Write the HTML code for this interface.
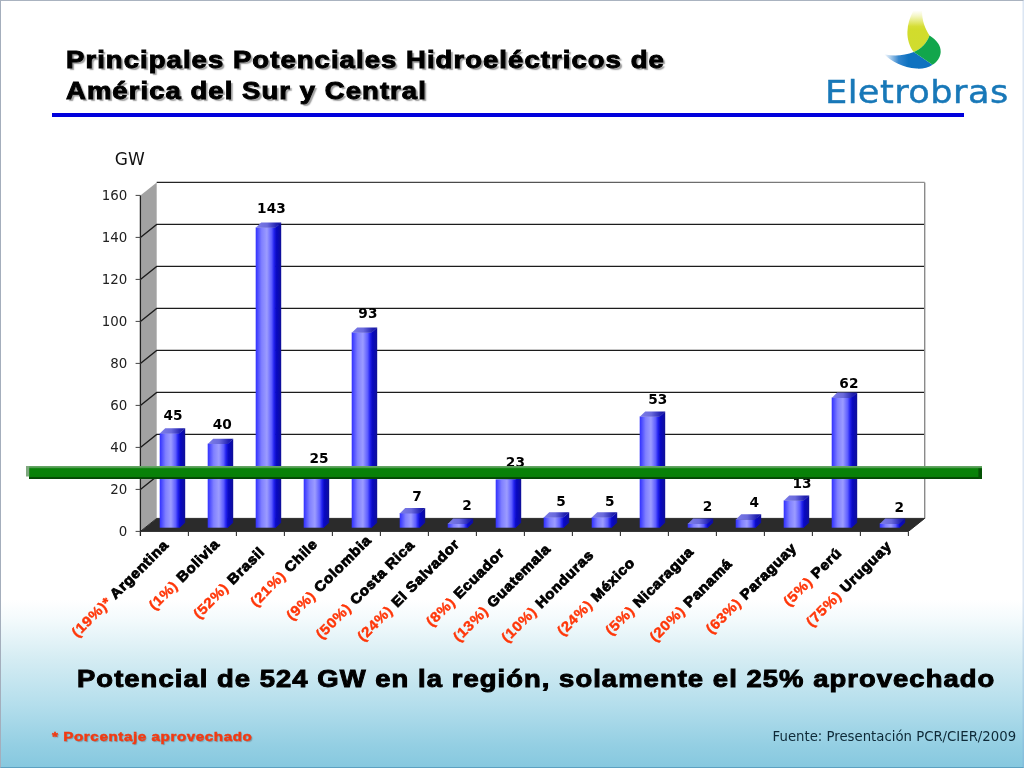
<!DOCTYPE html>
<html lang="es">
<head>
<meta charset="utf-8">
<title>Principales Potenciales Hidroeléctricos de América del Sur y Central</title>
<style>
html,body{margin:0;padding:0;}
body{width:1024px;height:768px;overflow:hidden;position:relative;font-family:"Liberation Sans",sans-serif;
background:linear-gradient(to bottom,#ffffff 0px,#ffffff 600px,#f3fafc 620px,#d4ecf3 660px,#b4deec 705px,#94cfe3 745px,#86c8df 768px);}
.frame{position:absolute;left:0;top:0;width:1024px;height:768px;box-sizing:border-box;border-top:1px solid #aab3c0;border-left:1px solid #a4aebc;border-right:1px solid rgba(120,160,210,.26);border-bottom:1px solid rgba(60,130,170,.55);pointer-events:none;}
.redge{position:absolute;left:1022px;top:1px;width:1px;height:766px;background:rgba(120,160,210,.14);}
.chart{position:absolute;left:0;top:0;}
.blk{font-family:"Liberation Sans",sans-serif;font-weight:bold;color:#000;-webkit-text-stroke:0.95px #000;white-space:nowrap;position:absolute;transform-origin:0 0;}
.title{left:66.3px;top:45.2px;font-size:24px;line-height:30.9px;letter-spacing:0.945px;text-shadow:2px 2px 1.2px #9c9c9c;transform:scaleX(1.143);}
.rule{position:absolute;left:52px;top:113px;width:912px;height:4px;background:#0000dc;}
.gw{position:absolute;left:114.8px;top:148.8px;font-family:"DejaVu Sans",sans-serif;font-size:17px;line-height:20px;color:#111;}
.ytick{font-family:"DejaVu Sans",sans-serif;font-size:13.4px;fill:#222;}
.dl{font-family:"DejaVu Sans",sans-serif;font-weight:bold;font-size:13.7px;fill:#000;}
.cl{letter-spacing:0.58px;font-family:"Liberation Sans",sans-serif;font-weight:bold;font-size:14.0px;fill:#000;stroke:#000;stroke-width:0.85px;}
.cl .pc{fill:#ff3608;stroke:#ff3608;stroke-width:0.4px;}
.big{left:76.9px;top:663.1px;font-size:24px;line-height:31px;letter-spacing:0.912px;transform:scaleX(1.143);}
.note{left:52px;top:728px;font-size:13.3px;line-height:18px;color:#f23a12;-webkit-text-stroke:0.5px #f23a12;text-shadow:1px 1px 1px rgba(90,110,120,.55);letter-spacing:0.54px;transform:scaleX(1.137);}
.src{position:absolute;left:772.6px;top:727.8px;font-family:"DejaVu Sans",sans-serif;font-size:13.27px;line-height:18px;color:#0e2a38;white-space:nowrap;}
.logo{position:absolute;left:0;top:0;}
.brand{position:absolute;left:825.4px;top:72.3px;font-family:"DejaVu Sans",sans-serif;font-size:32.6px;line-height:40px;color:#1878b8;letter-spacing:0.4px;transform:scaleX(1.08);transform-origin:0 0;-webkit-text-stroke:0.45px #1878b8;white-space:nowrap;}
</style>
</head>
<body>
<div class="blk title">Principales Potenciales Hidroeléctricos de<br>América del Sur y Central</div>
<div class="rule"></div>
<svg class="logo" width="1024" height="130" viewBox="0 0 1024 130">
<defs>
<linearGradient id="ly" x1="0" y1="0" x2="0" y2="1"><stop offset="0" stop-color="#d8e030" stop-opacity="0"/><stop offset="0.12" stop-color="#d8e030" stop-opacity="0.25"/><stop offset="0.38" stop-color="#d4dc2c" stop-opacity="0.95"/><stop offset="0.45" stop-color="#d2dc2c"/><stop offset="1" stop-color="#cfdc30"/></linearGradient>
<linearGradient id="lb" x1="0" y1="0" x2="1" y2="0"><stop offset="0" stop-color="#2a80d0" stop-opacity="0"/><stop offset="0.3" stop-color="#1c78c8" stop-opacity="0.9"/><stop offset="0.5" stop-color="#0f72c0"/><stop offset="1" stop-color="#0f72c0"/></linearGradient>
</defs>
<path d="M884.2 54.2 C894 56.5 905 55.5 913.8 52 L932.5 64.8 C928.5 67.8 922 69 916.5 68.6 C903 67.5 891.5 61.5 884.2 54.2 Z" fill="url(#lb)"/>
<path d="M913.2 11 L922 10.5 C922 21 925 28.5 929.5 35.5 C927 43 921 49 913.8 52 C909.5 47 907.2 39 907.4 32 C907.6 24 910 17 913.2 11 Z" fill="url(#ly)"/>
<path d="M929.5 35.5 C936.5 40 941 45.5 940.7 52 C940.4 57.5 937 62 932.5 64.8 L913.8 52 C921 49 927 43 929.5 35.5 Z" fill="#12a64c"/>
</svg>
<div class="brand">Eletrobras</div>
<div class="gw">GW</div>
<svg class="chart" width="1024" height="768" viewBox="0 0 1024 768">
<defs>
<linearGradient id="gf" x1="0" y1="0" x2="1" y2="0"><stop offset="0" stop-color="#3030ff"/><stop offset="0.3" stop-color="#8080ff"/><stop offset="0.56" stop-color="#9c9cff"/><stop offset="0.8" stop-color="#5c5cff"/><stop offset="0.92" stop-color="#2020ee"/><stop offset="1" stop-color="#1010d4"/></linearGradient>
<linearGradient id="gs" x1="0" y1="0" x2="1" y2="0"><stop offset="0" stop-color="#0e0ed0"/><stop offset="0.3" stop-color="#0808c0"/><stop offset="1" stop-color="#101096"/></linearGradient>
<linearGradient id="gt" x1="0" y1="0" x2="1" y2="0"><stop offset="0" stop-color="#7c7ce8"/><stop offset="0.45" stop-color="#6a6adc"/><stop offset="0.8" stop-color="#2424b4"/><stop offset="1" stop-color="#12129c"/></linearGradient>
<linearGradient id="gtop" gradientUnits="userSpaceOnUse" x1="156" y1="0" x2="925" y2="0"><stop offset="0" stop-color="#222"/><stop offset="0.5" stop-color="#555"/><stop offset="1" stop-color="#909090"/></linearGradient>
<linearGradient id="ggreen" x1="0" y1="0" x2="0" y2="1"><stop offset="0" stop-color="#6aa86a"/><stop offset="0.16" stop-color="#4a984a"/><stop offset="0.2" stop-color="#088208"/><stop offset="0.82" stop-color="#088008"/><stop offset="0.88" stop-color="#045004"/><stop offset="1" stop-color="#034403"/></linearGradient>
</defs>
<rect x="156.7" y="182.4" width="768" height="336" fill="#fff"/>
<polygon points="140.4,531.4 156.7,518.4 156.7,182.4 140.4,195.4" fill="#a2a2a2"/>
<path d="M140.4 489.4 L156.7 476.4 L924.7 476.4" fill="none" stroke="#1c1c1c" stroke-width="1.3"/>
<path d="M140.4 447.4 L156.7 434.4 L924.7 434.4" fill="none" stroke="#1c1c1c" stroke-width="1.3"/>
<path d="M140.4 405.4 L156.7 392.4 L924.7 392.4" fill="none" stroke="#1c1c1c" stroke-width="1.3"/>
<path d="M140.4 363.4 L156.7 350.4 L924.7 350.4" fill="none" stroke="#1c1c1c" stroke-width="1.3"/>
<path d="M140.4 321.4 L156.7 308.4 L924.7 308.4" fill="none" stroke="#1c1c1c" stroke-width="1.3"/>
<path d="M140.4 279.4 L156.7 266.4 L924.7 266.4" fill="none" stroke="#1c1c1c" stroke-width="1.3"/>
<path d="M140.4 237.4 L156.7 224.4 L924.7 224.4" fill="none" stroke="#1c1c1c" stroke-width="1.3"/>
<line x1="156.7" y1="182.4" x2="924.7" y2="182.4" stroke="url(#gtop)" stroke-width="1.4"/>
<line x1="924.7" y1="182.4" x2="924.7" y2="518.4" stroke="#8a8a8a" stroke-width="1.4"/>
<polygon points="140.4,531.4 156.7,518.4 924.7,518.4 908.4,531.4" fill="#2b2b2b" stroke="#2b2b2b" stroke-width="1"/>
<line x1="140.4" y1="195.4" x2="140.4" y2="535.9" stroke="#222" stroke-width="1.3"/>
<line x1="135.6" y1="531.4" x2="140.4" y2="531.4" stroke="#444" stroke-width="1"/>
<text class="ytick" x="127.2" y="536.2" text-anchor="end">0</text>
<line x1="135.6" y1="489.4" x2="140.4" y2="489.4" stroke="#444" stroke-width="1"/>
<text class="ytick" x="127.2" y="494.2" text-anchor="end">20</text>
<line x1="135.6" y1="447.4" x2="140.4" y2="447.4" stroke="#444" stroke-width="1"/>
<text class="ytick" x="127.2" y="452.2" text-anchor="end">40</text>
<line x1="135.6" y1="405.4" x2="140.4" y2="405.4" stroke="#444" stroke-width="1"/>
<text class="ytick" x="127.2" y="410.2" text-anchor="end">60</text>
<line x1="135.6" y1="363.4" x2="140.4" y2="363.4" stroke="#444" stroke-width="1"/>
<text class="ytick" x="127.2" y="368.2" text-anchor="end">80</text>
<line x1="135.6" y1="321.4" x2="140.4" y2="321.4" stroke="#444" stroke-width="1"/>
<text class="ytick" x="127.2" y="326.2" text-anchor="end">100</text>
<line x1="135.6" y1="279.4" x2="140.4" y2="279.4" stroke="#444" stroke-width="1"/>
<text class="ytick" x="127.2" y="284.2" text-anchor="end">120</text>
<line x1="135.6" y1="237.4" x2="140.4" y2="237.4" stroke="#444" stroke-width="1"/>
<text class="ytick" x="127.2" y="242.2" text-anchor="end">140</text>
<line x1="135.6" y1="195.4" x2="140.4" y2="195.4" stroke="#444" stroke-width="1"/>
<text class="ytick" x="127.2" y="200.2" text-anchor="end">160</text>
<line x1="188.4" y1="531.4" x2="188.4" y2="535.9" stroke="#333" stroke-width="1.1"/>
<line x1="236.4" y1="531.4" x2="236.4" y2="535.9" stroke="#333" stroke-width="1.1"/>
<line x1="284.4" y1="531.4" x2="284.4" y2="535.9" stroke="#333" stroke-width="1.1"/>
<line x1="332.4" y1="531.4" x2="332.4" y2="535.9" stroke="#333" stroke-width="1.1"/>
<line x1="380.4" y1="531.4" x2="380.4" y2="535.9" stroke="#333" stroke-width="1.1"/>
<line x1="428.4" y1="531.4" x2="428.4" y2="535.9" stroke="#333" stroke-width="1.1"/>
<line x1="476.4" y1="531.4" x2="476.4" y2="535.9" stroke="#333" stroke-width="1.1"/>
<line x1="524.4" y1="531.4" x2="524.4" y2="535.9" stroke="#333" stroke-width="1.1"/>
<line x1="572.4" y1="531.4" x2="572.4" y2="535.9" stroke="#333" stroke-width="1.1"/>
<line x1="620.4" y1="531.4" x2="620.4" y2="535.9" stroke="#333" stroke-width="1.1"/>
<line x1="668.4" y1="531.4" x2="668.4" y2="535.9" stroke="#333" stroke-width="1.1"/>
<line x1="716.4" y1="531.4" x2="716.4" y2="535.9" stroke="#333" stroke-width="1.1"/>
<line x1="764.4" y1="531.4" x2="764.4" y2="535.9" stroke="#333" stroke-width="1.1"/>
<line x1="812.4" y1="531.4" x2="812.4" y2="535.9" stroke="#333" stroke-width="1.1"/>
<line x1="860.4" y1="531.4" x2="860.4" y2="535.9" stroke="#333" stroke-width="1.1"/>
<line x1="908.4" y1="531.4" x2="908.4" y2="535.9" stroke="#333" stroke-width="1.1"/>
<rect x="159.7" y="433.2" width="20" height="94.5" fill="url(#gf)"/>
<polygon points="159.7,433.6 165.2,428.2 185.2,428.2 179.7,433.6" fill="url(#gt)"/>
<polygon points="179.1,527.7 179.7,527.7 185.2,522.7 185.2,428.2 179.7,433.2 179.1,433.2" fill="url(#gs)"/>
<rect x="207.7" y="443.7" width="20" height="84" fill="url(#gf)"/>
<polygon points="207.7,444.1 213.2,438.7 233.2,438.7 227.7,444.1" fill="url(#gt)"/>
<polygon points="227.1,527.7 227.7,527.7 233.2,522.7 233.2,438.7 227.7,443.7 227.1,443.7" fill="url(#gs)"/>
<rect x="255.7" y="227.4" width="20" height="300.3" fill="url(#gf)"/>
<polygon points="255.7,227.8 261.2,222.4 281.2,222.4 275.7,227.8" fill="url(#gt)"/>
<polygon points="275.1,527.7 275.7,527.7 281.2,522.7 281.2,222.4 275.7,227.4 275.1,227.4" fill="url(#gs)"/>
<rect x="303.7" y="475.2" width="20" height="52.5" fill="url(#gf)"/>
<polygon points="303.7,475.6 309.2,470.2 329.2,470.2 323.7,475.6" fill="url(#gt)"/>
<polygon points="323.1,527.7 323.7,527.7 329.2,522.7 329.2,470.2 323.7,475.2 323.1,475.2" fill="url(#gs)"/>
<rect x="351.7" y="332.4" width="20" height="195.3" fill="url(#gf)"/>
<polygon points="351.7,332.8 357.2,327.4 377.2,327.4 371.7,332.8" fill="url(#gt)"/>
<polygon points="371.1,527.7 371.7,527.7 377.2,522.7 377.2,327.4 371.7,332.4 371.1,332.4" fill="url(#gs)"/>
<rect x="399.7" y="513" width="20" height="14.7" fill="url(#gf)"/>
<polygon points="399.7,513.4 405.2,508 425.2,508 419.7,513.4" fill="url(#gt)"/>
<polygon points="419.1,527.7 419.7,527.7 425.2,522.7 425.2,508 419.7,513 419.1,513" fill="url(#gs)"/>
<rect x="447.7" y="523.5" width="20" height="4.2" fill="url(#gf)"/>
<polygon points="447.7,523.9 453.2,518.5 473.2,518.5 467.7,523.9" fill="url(#gt)"/>
<polygon points="467.1,527.7 467.7,527.7 473.2,522.7 473.2,518.5 467.7,523.5 467.1,523.5" fill="url(#gs)"/>
<rect x="495.7" y="479.4" width="20" height="48.3" fill="url(#gf)"/>
<polygon points="495.7,479.8 501.2,474.4 521.2,474.4 515.7,479.8" fill="url(#gt)"/>
<polygon points="515.1,527.7 515.7,527.7 521.2,522.7 521.2,474.4 515.7,479.4 515.1,479.4" fill="url(#gs)"/>
<rect x="543.7" y="517.2" width="20" height="10.5" fill="url(#gf)"/>
<polygon points="543.7,517.6 549.2,512.2 569.2,512.2 563.7,517.6" fill="url(#gt)"/>
<polygon points="563.1,527.7 563.7,527.7 569.2,522.7 569.2,512.2 563.7,517.2 563.1,517.2" fill="url(#gs)"/>
<rect x="591.7" y="517.2" width="20" height="10.5" fill="url(#gf)"/>
<polygon points="591.7,517.6 597.2,512.2 617.2,512.2 611.7,517.6" fill="url(#gt)"/>
<polygon points="611.1,527.7 611.7,527.7 617.2,522.7 617.2,512.2 611.7,517.2 611.1,517.2" fill="url(#gs)"/>
<rect x="639.7" y="416.4" width="20" height="111.3" fill="url(#gf)"/>
<polygon points="639.7,416.8 645.2,411.4 665.2,411.4 659.7,416.8" fill="url(#gt)"/>
<polygon points="659.1,527.7 659.7,527.7 665.2,522.7 665.2,411.4 659.7,416.4 659.1,416.4" fill="url(#gs)"/>
<rect x="687.7" y="523.5" width="20" height="4.2" fill="url(#gf)"/>
<polygon points="687.7,523.9 693.2,518.5 713.2,518.5 707.7,523.9" fill="url(#gt)"/>
<polygon points="707.1,527.7 707.7,527.7 713.2,522.7 713.2,518.5 707.7,523.5 707.1,523.5" fill="url(#gs)"/>
<rect x="735.7" y="519.3" width="20" height="8.4" fill="url(#gf)"/>
<polygon points="735.7,519.7 741.2,514.3 761.2,514.3 755.7,519.7" fill="url(#gt)"/>
<polygon points="755.1,527.7 755.7,527.7 761.2,522.7 761.2,514.3 755.7,519.3 755.1,519.3" fill="url(#gs)"/>
<rect x="783.7" y="500.4" width="20" height="27.3" fill="url(#gf)"/>
<polygon points="783.7,500.8 789.2,495.4 809.2,495.4 803.7,500.8" fill="url(#gt)"/>
<polygon points="803.1,527.7 803.7,527.7 809.2,522.7 809.2,495.4 803.7,500.4 803.1,500.4" fill="url(#gs)"/>
<rect x="831.7" y="397.5" width="20" height="130.2" fill="url(#gf)"/>
<polygon points="831.7,397.9 837.2,392.5 857.2,392.5 851.7,397.9" fill="url(#gt)"/>
<polygon points="851.1,527.7 851.7,527.7 857.2,522.7 857.2,392.5 851.7,397.5 851.1,397.5" fill="url(#gs)"/>
<rect x="879.7" y="523.5" width="20" height="4.2" fill="url(#gf)"/>
<polygon points="879.7,523.9 885.2,518.5 905.2,518.5 899.7,523.9" fill="url(#gt)"/>
<polygon points="899.1,527.7 899.7,527.7 905.2,522.7 905.2,518.5 899.7,523.5 899.1,523.5" fill="url(#gs)"/>
<text class="dl" x="173" y="420" text-anchor="middle">45</text>
<text class="dl" x="222.3" y="428.8" text-anchor="middle">40</text>
<text class="dl" x="271.4" y="213.3" text-anchor="middle">143</text>
<text class="dl" x="319.1" y="463.4" text-anchor="middle">25</text>
<text class="dl" x="367.9" y="317.6" text-anchor="middle">93</text>
<text class="dl" x="417" y="500.9" text-anchor="middle">7</text>
<text class="dl" x="467" y="509.8" text-anchor="middle">2</text>
<text class="dl" x="515.4" y="466.5" text-anchor="middle">23</text>
<text class="dl" x="561" y="506.4" text-anchor="middle">5</text>
<text class="dl" x="609.8" y="506" text-anchor="middle">5</text>
<text class="dl" x="657.7" y="404.4" text-anchor="middle">53</text>
<text class="dl" x="707.4" y="510.8" text-anchor="middle">2</text>
<text class="dl" x="754.3" y="506.5" text-anchor="middle">4</text>
<text class="dl" x="802" y="487.7" text-anchor="middle">13</text>
<text class="dl" x="848.9" y="388.1" text-anchor="middle">62</text>
<text class="dl" x="899.3" y="511.9" text-anchor="middle">2</text>
<text class="cl" transform="translate(169.4 545.9) rotate(-45) scale(1.08 1)" text-anchor="end"><tspan class="pc">(19%)*</tspan> Argentina</text>
<text class="cl" transform="translate(220.4 544.9) rotate(-45) scale(1.08 1)" text-anchor="end"><tspan class="pc">(1%)</tspan> Bolivia</text>
<text class="cl" transform="translate(265.4 552.9) rotate(-45) scale(1.08 1)" text-anchor="end"><tspan class="pc">(52%)</tspan> Brasil</text>
<text class="cl" transform="translate(318.4 544.9) rotate(-45) scale(1.08 1)" text-anchor="end"><tspan class="pc">(21%)</tspan> Chile</text>
<text class="cl" transform="translate(372.1 541) rotate(-45) scale(1.08 1)" text-anchor="end"><tspan class="pc">(9%)</tspan> Colombia</text>
<text class="cl" transform="translate(415.3 545.9) rotate(-45) scale(1.08 1)" text-anchor="end"><tspan class="pc">(50%)</tspan> Costa Rica</text>
<text class="cl" transform="translate(460.3 544.9) rotate(-45) scale(1.08 1)" text-anchor="end"><tspan class="pc">(24%)</tspan> El Salvador</text>
<text class="cl" transform="translate(505.4 553.7) rotate(-45) scale(1.08 1)" text-anchor="end"><tspan class="pc">(8%)</tspan> Ecuador</text>
<text class="cl" transform="translate(551.4 549.8) rotate(-45) scale(1.08 1)" text-anchor="end"><tspan class="pc">(13%)</tspan> Guatemala</text>
<text class="cl" transform="translate(594.6 555.7) rotate(-45) scale(1.08 1)" text-anchor="end"><tspan class="pc">(10%)</tspan> Honduras</text>
<text class="cl" transform="translate(635.7 563.5) rotate(-45) scale(1.08 1)" text-anchor="end"><tspan class="pc">(24%)</tspan> México</text>
<text class="cl" transform="translate(694.5 552.7) rotate(-45) scale(1.08 1)" text-anchor="end"><tspan class="pc">(5%)</tspan> Nicaragua</text>
<text class="cl" transform="translate(733 564.7) rotate(-45) scale(1.08 1)" text-anchor="end"><tspan class="pc">(20%)</tspan> Panamá</text>
<text class="cl" transform="translate(797.3 548.8) rotate(-45) scale(1.08 1)" text-anchor="end"><tspan class="pc">(63%)</tspan> Paraguay</text>
<text class="cl" transform="translate(842.4 553.7) rotate(-45) scale(1.08 1)" text-anchor="end"><tspan class="pc">(5%)</tspan> Perú</text>
<text class="cl" transform="translate(892.3 546.9) rotate(-45) scale(1.08 1)" text-anchor="end"><tspan class="pc">(75%)</tspan> Uruguay</text>
<rect x="29" y="466" width="953" height="13" fill="url(#ggreen)"/>
<rect x="26" y="466" width="3.2" height="10.5" fill="#7fa87f"/>
<rect x="978.4" y="468.4" width="3.6" height="10.6" fill="#045204"/>
</svg>
<div class="blk big">Potencial de 524 GW en la región, solamente el 25% aprovechado</div>
<div class="blk note">* Porcentaje aprovechado</div>
<div class="src">Fuente: Presentación PCR/CIER/2009</div>
<div class="frame"></div>
<div class="redge"></div>
</body>
</html>
